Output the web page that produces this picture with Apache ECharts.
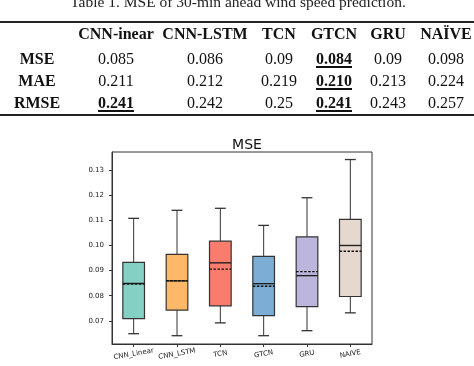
<!DOCTYPE html>
<html>
<head>
<meta charset="utf-8">
<script src="https://cdn.jsdelivr.net/npm/echarts@6/dist/echarts.min.js"></script>
<style>
html,body{margin:0;padding:0;background:#fff;}
#wrap{position:relative;width:474px;height:366px;overflow:hidden;background:#fff;}
#chart{position:absolute;left:0;top:0;width:474px;height:366px;}
.cell{position:absolute;width:120px;text-align:center;font-family:"Liberation Serif","Times New Roman",serif;font-size:16px;line-height:16px;color:#111;white-space:nowrap;}
.b{font-weight:bold;}
.u{text-decoration:underline;text-decoration-thickness:1.5px;text-underline-offset:2px;}
.rule{position:absolute;left:0;width:474px;height:2px;background:#222;}
#caption{position:absolute;left:0;width:474px;text-align:center;font-family:"Liberation Serif","Times New Roman",serif;font-size:15.5px;line-height:16px;color:#222;white-space:nowrap;}
</style>
</head>
<body>
<div id="wrap">
  <div id="chart"></div>
  <div id="table"></div>
</div>
<script>
// ---------- table data ----------
const captionText = "Table 1. MSE of 30-min ahead wind speed prediction.";
const tableHeaders = ["CNN-inear", "CNN-LSTM", "TCN", "GTCN", "GRU", "NAÏVE"];
const rowLabels = ["MSE", "MAE", "RMSE"];
const mseRow = ["0.085", "0.086", "0.09", "0.084", "0.09", "0.098"];
const maeRow = ["0.211", "0.212", "0.219", "0.210", "0.213", "0.224"];
const rmseRow = ["0.241", "0.242", "0.25", "0.241", "0.243", "0.257"];
// best (bold + underlined) cells: [rowIndex, colIndex]
const bestCells = [[0, 3], [1, 3], [2, 0], [2, 3]];

// ---------- box plot data ----------
const categories = ["CNN_Linear", "CNN_LSTM", "TCN", "GTCN", "GRU", "NAIVE"];
const whiskerLow = [0.0649, 0.0641, 0.0692, 0.0641, 0.0661, 0.0732];
const q1Values = [0.0709, 0.0743, 0.0760, 0.0721, 0.0757, 0.0797];
const medianValues = [0.0849, 0.0859, 0.0931, 0.0848, 0.0880, 0.1000];
const q3Values = [0.0933, 0.0965, 0.1017, 0.0957, 0.1034, 0.1104];
const whiskerHigh = [0.1108, 0.1140, 0.1148, 0.1080, 0.1190, 0.1342];
const meanValues = [0.0847, 0.0860, 0.0906, 0.0838, 0.0896, 0.0977];
const yTickLabels = ["0.07", "0.08", "0.09", "0.10", "0.11", "0.12", "0.13"];

const boxColors = ["#84d0c4", "#fdb86a", "#f97c6d", "#7cadd4", "#bcb6dc", "#e5d8ce"];

// ---------- build table (layout) ----------
const colX = [37, 116, 205, 279, 334, 388, 446];
const rowTop = [26, 50.5, 73, 95];
const tableEl = document.getElementById('table');
function addCell(text, cx, top, cls) {
  const d = document.createElement('div');
  d.className = 'cell ' + (cls || '');
  d.style.left = (cx - 60) + 'px';
  d.style.top = top + 'px';
  d.textContent = text;
  tableEl.appendChild(d);
}
const cap = document.createElement('div');
cap.id = 'caption'; cap.style.top = '-6px'; cap.style.left = '1px'; cap.textContent = captionText;
tableEl.appendChild(cap);
[21, 114].forEach(y => {
  const r = document.createElement('div'); r.className = 'rule'; r.style.top = y + 'px'; tableEl.appendChild(r);
});
tableHeaders.forEach((h, j) => addCell(h, colX[j + 1], rowTop[0], 'b'));
const rows = [mseRow, maeRow, rmseRow];
rows.forEach((row, i) => {
  addCell(rowLabels[i], colX[0], rowTop[i + 1], 'b');
  row.forEach((v, j) => {
    const best = bestCells.some(c => c[0] === i && c[1] === j);
    addCell(v, colX[j + 1], rowTop[i + 1], best ? 'b u' : '');
  });
});

// ---------- chart ----------
const chart = echarts.init(document.getElementById('chart'), null, {renderer: 'canvas'});
const boxData = categories.map((c, i) => [i, whiskerLow[i], q1Values[i], medianValues[i], q3Values[i], whiskerHigh[i], meanValues[i]]);

function renderBox(params, api) {
  const i = api.value(0);
  const band = api.size([1, 0])[0];
  const bw = band * 0.5;
  const cw = bw * 0.5;
  const pLow = api.coord([i, api.value(1)]);
  const pQ1 = api.coord([i, api.value(2)]);
  const pMed = api.coord([i, api.value(3)]);
  const pQ3 = api.coord([i, api.value(4)]);
  const pHigh = api.coord([i, api.value(5)]);
  const pMean = api.coord([i, api.value(6)]);
  const x = pQ1[0];
  const lineStyle = {stroke: '#333', lineWidth: 1};
  return {
    type: 'group',
    children: [
      {type: 'line', shape: {x1: x, y1: pLow[1], x2: x, y2: pQ1[1]}, style: lineStyle},
      {type: 'line', shape: {x1: x, y1: pQ3[1], x2: x, y2: pHigh[1]}, style: lineStyle},
      {type: 'line', shape: {x1: x - cw / 2, y1: pLow[1], x2: x + cw / 2, y2: pLow[1]}, style: {stroke: '#333', lineWidth: 1.3}},
      {type: 'line', shape: {x1: x - cw / 2, y1: pHigh[1], x2: x + cw / 2, y2: pHigh[1]}, style: {stroke: '#333', lineWidth: 1.3}},
      {type: 'rect', shape: {x: x - bw / 2, y: pQ3[1], width: bw, height: pQ1[1] - pQ3[1]},
        style: {fill: boxColors[i], stroke: '#333', lineWidth: 1.2}},
      {type: 'line', shape: {x1: x - bw / 2, y1: pMed[1], x2: x + bw / 2, y2: pMed[1]}, style: {stroke: '#222', lineWidth: 1.4}},
      {type: 'line', shape: {x1: x - bw / 2, y1: pMean[1], x2: x + bw / 2, y2: pMean[1]}, style: {stroke: '#111', lineWidth: 1.4, lineDash: [2.5, 1.5]}}
    ]
  };
}

chart.setOption({
  animation: false,
  backgroundColor: 'transparent',
  title: {
    text: 'MSE', left: 242, top: 133, textAlign: 'center',
    textStyle: {fontFamily: 'DejaVu Sans', fontSize: 14, fontWeight: 'normal', color: '#111'}
  },
  grid: {left: 112, right: 102, top: 152, bottom: 22, show: true, borderColor: '#333', borderWidth: 1, backgroundColor: 'transparent'},
  xAxis: {
    type: 'category', data: categories, boundaryGap: true,
    axisLine: {show: true, lineStyle: {color: '#333', width: 1}},
    axisTick: {show: true, alignWithLabel: true, interval: 0, length: 3, inside: false, lineStyle: {color: '#333'}},
    axisLabel: {interval: 0, hideOverlap: false, rotate: 10, align: 'center', verticalAlign: 'middle', margin: 10, fontFamily: 'DejaVu Sans', fontSize: 7, color: '#222'},
    splitLine: {show: false}
  },
  yAxis: {
    type: 'value', min: 0.0608, max: 0.1372, minInterval: 0.01, maxInterval: 0.01,
    axisLine: {show: true, lineStyle: {color: '#333', width: 1}},
    axisTick: {show: true, length: 3, lineStyle: {color: '#333'}},
    axisLabel: {
      showMinLabel: false, showMaxLabel: false, margin: 8,
      fontFamily: 'DejaVu Sans', fontSize: 7, color: '#222',
      formatter: function (v) {
        const s = v.toFixed(2);
        return yTickLabels.indexOf(s) >= 0 && Math.abs(v - parseFloat(s)) < 1e-6 ? s : '';
      }
    },
    splitLine: {show: false}
  },
  series: [{
    type: 'custom',
    renderItem: renderBox,
    encode: {x: 0, y: [1, 2, 3, 4, 5, 6]},
    data: boxData,
    clip: false
  }]
});
</script>
</body>
</html>
